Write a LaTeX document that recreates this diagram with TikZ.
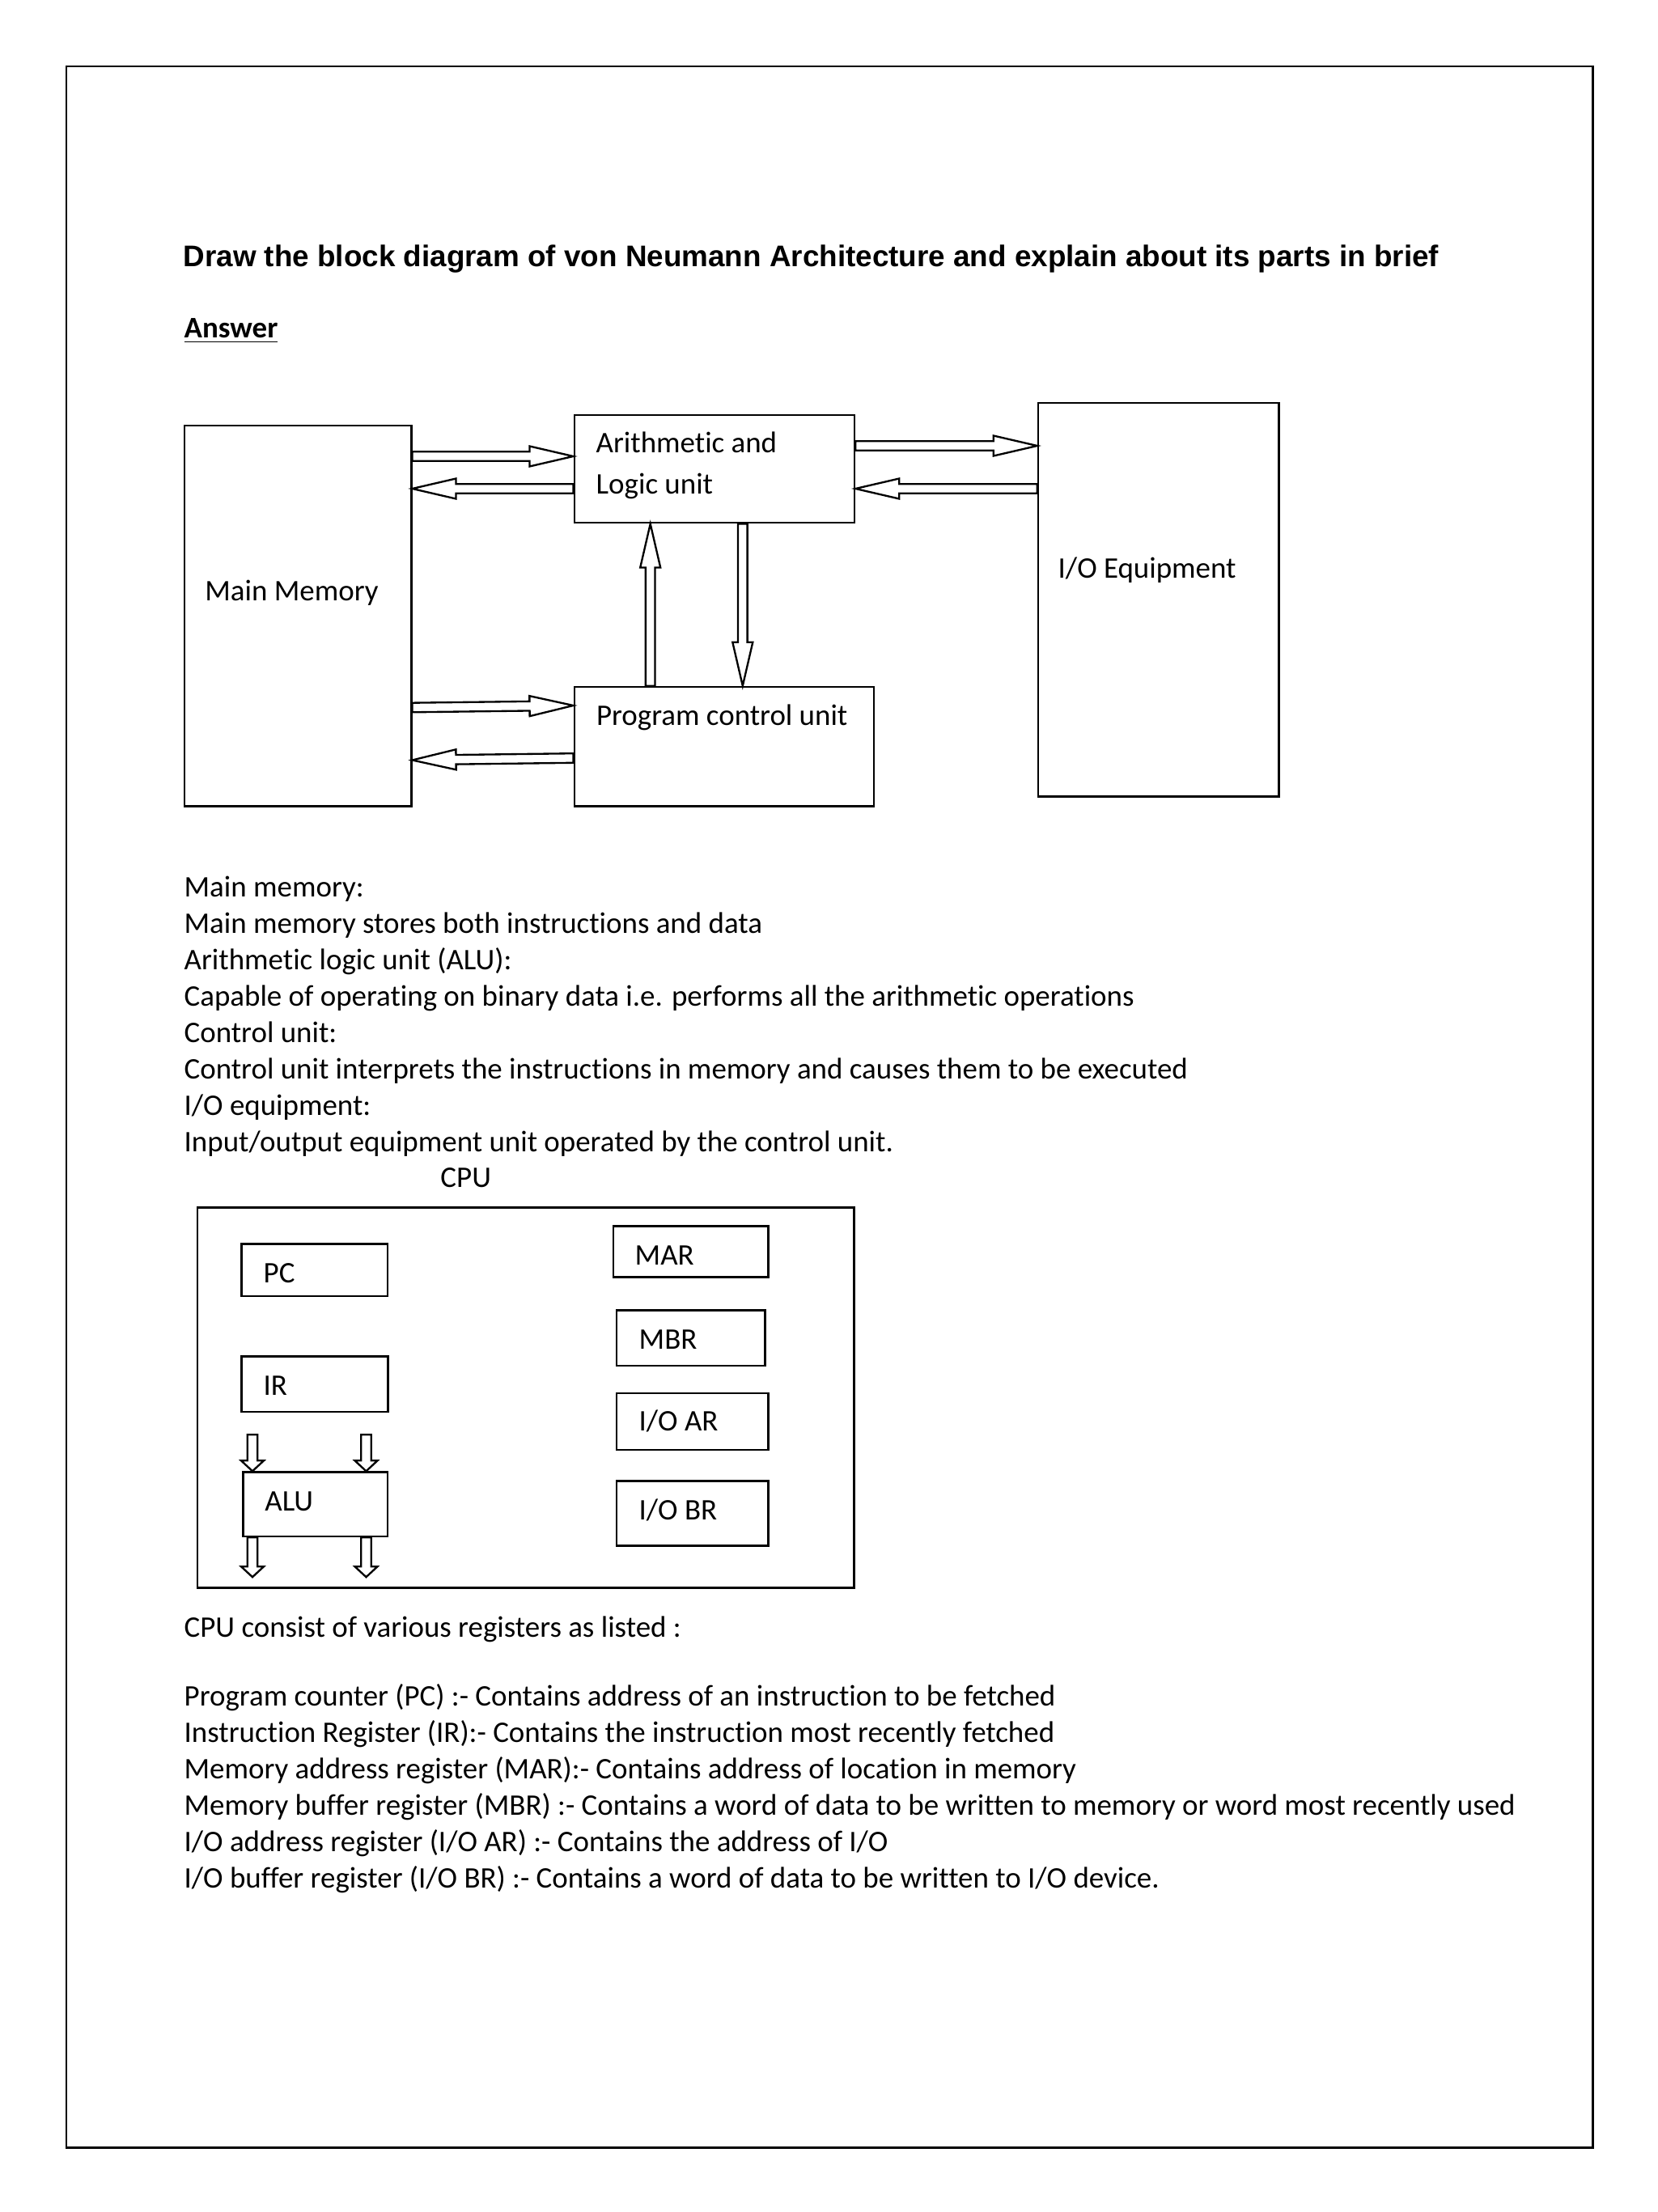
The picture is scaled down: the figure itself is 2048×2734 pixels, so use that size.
\documentclass[tikz,border=0pt]{standalone}
\usepackage{fontspec}
\setmainfont{Carlito}[Ligatures=NoCommon]
\newfontfamily\headfont{Liberation Sans}
\usetikzlibrary{positioning, calc}

\begin{document}
\begin{tikzpicture}[x=0.3pt, y=-0.3pt,
    box/.style 2 args={rectangle, draw, line width=0.75pt, anchor=north west,
                inner sep=0pt, minimum width=#1*0.3pt, minimum height=#2*0.3pt},
    lbl/.style={anchor=base west, inner sep=0pt, font=\fontsize{11.08}{13.5}\selectfont},
    head/.style={anchor=base west, inner sep=0pt, font=\headfont\bfseries\fontsize{11.05}{13}\selectfont},
    harrow/.style n args={3}{line width=0.7pt, to path={
        let \p1=(\tikztostart), \p2=(\tikztotarget),
            \n1={atan2(\y2-\y1,\x2-\x1)}, \n2={veclen(\x2-\x1,\y2-\y1)} in
        {[shift={(\p1)}, rotate=\n1]
         (0pt,-#1) -- ({\n2*1pt-#3},-#1) -- ({\n2*1pt-#3},-#2) -- ({\n2*1pt},0pt)
         -- ({\n2*1pt-#3},#2) -- ({\n2*1pt-#3},#1) -- (0pt,#1) -- cycle}}},
    bigarr/.style={harrow={1.74pt}{3.75pt}{16.2pt}},
    smallarr/.style={harrow={1.86pt}{4.2pt}{3.9pt}}
]
\useasboundingbox (0,0) rectangle (2048,2734);

\node[box={1886.6}{2572.3}] (page) at (80.7,81) {};

\node[head] (title) at (226,330)
    {Draw the block diagram of von Neumann Architecture and explain about its parts in brief};
\node[lbl, font=\fontsize{11.08}{13.5}\selectfont\bfseries] (answer) at (227,417.7) {\underline{Answer}};

% block diagram
\node[box={280.4}{470.4}] (mm)  at (226.6,524.6) {};
\node[box={346.2}{133.3}] (alu) at (708.5,511.7) {};
\node[box={297.2}{486}]   (io)  at (1281.8,497)  {};
\node[box={370.4}{147.3}] (pcu) at (708.5,847.7) {};

\node[lbl] (mmtxt)   at (252.7,742.5) {Main Memory};
\node[lbl] (alutxt)  at (736,559.3)   {Arithmetic and};
\node[lbl] (alutxtb) at (736,611)     {Logic unit};
\node[lbl] (iotxt)   at (1307,714.6)  {I/O Equipment};
\node[lbl] (pcutxt)  at (736.4,896)   {Program control unit};

\draw[bigarr] ($(mm.north east)+(0,39.4)$)   to ($(alu.north west)+(0,52.3)$);
\draw[bigarr] ($(alu.north west)+(0,92.3)$)  to ($(mm.north east)+(0,79.4)$);
\draw[bigarr] ($(alu.north east)+(0,39.3)$)  to ($(io.north west)+(0,54)$);
\draw[bigarr] ($(io.north west)+(0,107)$)    to ($(alu.north east)+(0,92.3)$);
\draw[bigarr] ($(pcu.north west)+(95.2,0)$)  to ($(alu.south west)+(95.2,0)$);
\draw[bigarr] ($(alu.south west)+(209.3,0)$) to ($(pcu.north west)+(209.3,0)$);
\draw[bigarr] ($(mm.south east)+(0,-123)$)   to ($(pcu.north west)+(0,24.3)$);
\draw[bigarr] ($(pcu.north west)+(0,89.3)$)  to ($(mm.south east)+(0,-58)$);

% descriptions
\foreach \txt [count=\i from 0] in {{Main memory:},
    {Main memory stores both instructions and data},
    {Arithmetic logic unit (ALU):},
    {Capable of operating on binary data i.e. performs all the arithmetic operations},
    {Control unit:},
    {Control unit interprets the instructions in memory and causes them to be executed},
    {I/O equipment:},
    {Input/output equipment unit operated by the control unit.}}
    \node[lbl] (desc\i) at (227,{1108.3+45*\i}) {\txt};

% cpu registers
\node[lbl] (cputxt) at (543.8,1467.6) {CPU};
\node[box={811.6}{470}]  (cpu)    at (242.7,1491)   {};
\node[box={180.4}{64.7}] (pc)     at (297.3,1536)   {};
\node[box={180.7}{68.7}] (ir)     at (297.3,1675)   {};
\node[box={178.4}{79.4}] (alureg) at (299.3,1818.3) {};
\node[box={191.6}{63.3}] (mar)    at (756.7,1514)   {};
\node[box={183.3}{68.4}] (mbr)    at (760.7,1618.3) {};
\node[box={187.6}{70}]   (ioar)   at (760.7,1720.7) {};
\node[box={187.6}{80}]   (iobr)   at (760.7,1829.3) {};

\node[lbl] (pctxt)   at (325,1585)    {PC};
\node[lbl] (irtxt)   at (325,1724)    {IR};
\node[lbl] (alurtxt) at (326.7,1867)  {ALU};
\node[lbl] (martxt)  at (784,1563)    {MAR};
\node[lbl] (mbrtxt)  at (789,1667)    {MBR};
\node[lbl] (ioartxt) at (789,1768.3)  {I/O AR};
\node[lbl] (iobrtxt) at (789,1878.3)  {I/O BR};

\coordinate (outa) at ($(alureg.south west)+(12.7,49)$);
\coordinate (outb) at ($(alureg.south west)+(153.2,49)$);
\draw[smallarr] ($(ir.south west)+(14.7,27)$)  to ($(alureg.north west)+(12.7,0)$);
\draw[smallarr] ($(ir.south west)+(155.2,27)$) to ($(alureg.north west)+(153.2,0)$);
\draw[smallarr] ($(alureg.south west)+(12.7,0)$)  to (outa);
\draw[smallarr] ($(alureg.south west)+(153.2,0)$) to (outb);

\node[lbl] (regs) at (227,2023.3) {CPU consist of various registers as listed :};
\foreach \txt [count=\i from 0] in {{Program counter (PC) :- Contains address of an instruction to be fetched},
    {Instruction Register (IR):- Contains the instruction most recently fetched},
    {Memory address register (MAR):- Contains address of location in memory},
    {Memory buffer register (MBR) :- Contains a word of data to be written to memory or word most recently used},
    {I/O address register (I/O AR) :- Contains the address of I/O},
    {I/O buffer register (I/O BR) :- Contains a word of data to be written to I/O device.}}
    \node[lbl] (reg\i) at (227,{2108.3+45*\i}) {\txt};
\end{tikzpicture}
\end{document}
